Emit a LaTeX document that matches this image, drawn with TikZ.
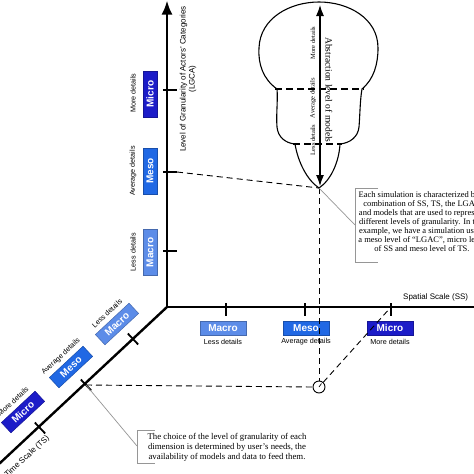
\documentclass[tikz,border=0pt]{standalone}
\usepackage{fontspec}
\setmainfont{Liberation Serif}
\setsansfont{Liberation Sans}
\usetikzlibrary{arrows.meta}
\definecolor{microc}{RGB}{28,28,200}
\definecolor{mesoc}{RGB}{32,104,228}
\definecolor{macroc}{RGB}{92,140,232}
\definecolor{leadc}{RGB}{150,150,150}
\begin{document}
\begin{tikzpicture}[x=1pt,y=-1pt,
  axis/.style={line width=2.4pt},
  tickmark/.style={line width=1.8pt},
  lvbox/.style={draw=#1!75!black, line width=0.5pt, fill=#1, text=white,
    font=\sffamily\bfseries\fontsize{10}{10}\selectfont,
    minimum width=46pt, minimum height=14pt, inner sep=0pt},
  lbl/.style={font=\sffamily\fontsize{7.2}{8}\selectfont, inner sep=0pt},
  axlbl/.style={font=\sffamily\fontsize{8}{9}\selectfont, inner sep=0pt},
  dsh/.style={dash pattern=on 6pt off 4pt, line width=0.9pt},
  leadline/.style={draw=leadc, line width=0.7pt},
  bracket/.style={draw=leadc, line width=0.8pt},
  ctext/.style={font=\fontsize{8.5}{9}\selectfont, align=center, inner sep=0pt},
  small/.style={font=\fontsize{6.5}{7}\selectfont, inner sep=0pt}
]
\useasboundingbox (0,0) rectangle (474,474);
\clip (0,0) rectangle (474,474);
\fill[white] (0,0) rectangle (474,474);

% coordinates
\coordinate (O) at (167,307);
\coordinate (vtop) at (167,0.5);
\coordinate (hend) at (480,307);
\coordinate (dend) at (-8.4,470.9);
\coordinate (vt1) at (167,90);
\coordinate (vt2) at (167,172);
\coordinate (vt3) at (167,251);
\coordinate (vt2r) at (177,172);
\coordinate (ht1) at (226,307);
\coordinate (ht2) at (305,307);
\coordinate (ht3) at (391,307);
\coordinate (dt1) at (133,339);
\coordinate (dt2) at (86,385);
\coordinate (dt3) at (40,428);
\coordinate (btip) at (319,188);
\coordinate (atop) at (320,5);
\coordinate (abot) at (320,186);
\coordinate (c1mid) at (355,225);
\coordinate (c2mid) at (137,446);

% axes
\draw[axis, -{Latex[length=14pt,width=11pt]}] (O) -- (vtop);
\draw[axis] (O) -- (hend);
\draw[axis] (O) -- (dend);

% ticks
\foreach \p in {vt1,vt2,vt3}
  \draw[tickmark] ([xshift=-4pt]\p) -- ([xshift=10pt]\p);
\foreach \p in {ht1,ht2,ht3}
  \draw[tickmark] ([yshift=4pt]\p) -- ([yshift=-9pt]\p);
\foreach \p in {dt1,dt2,dt3}
  \draw[tickmark] ([shift={(-5.2,-5.5)}]\p) -- ([shift={(5.2,5.5)}]\p);

% vertical axis boxes
\node[lvbox=microc, rotate=90] (vmicro) at (150,94) {Micro};
\node[lvbox=mesoc, rotate=90] (vmeso) at (150,171) {Meso};
\node[lvbox=macroc, rotate=90] (vmacro) at (150,252.5) {Macro};
\node[lbl, rotate=90] (vmicrol) at (133,93) {More details};
\node[lbl, rotate=90] (vmesol) at (133,171) {Average details};
\node[lbl, rotate=90] (vmacrol) at (133,252) {Less details};
\node[axlbl, rotate=90, align=center] (vaxl) at (188,79) {Level of Granularity of Actors' Categories\\(LGCA)};

% horizontal axis boxes
\node[lvbox=macroc] (hmacro) at (223,328.5) {Macro};
\node[lvbox=mesoc] (hmeso) at (306,328) {Meso};
\node[lvbox=microc] (hmicro) at (390,328) {Micro};
\node[lbl] (hmacrol) at (223,342) {Less details};
\node[lbl] (hmesol) at (306,342) {Average details};
\node[lbl] (hmicrol) at (390,342) {More details};
\node[axlbl, anchor=west] (haxl) at (403,297) {Spatial Scale (SS)};

% diagonal axis boxes
\node[lvbox=macroc, rotate=43] (dmacro) at (117,324) {Macro};
\node[lvbox=mesoc, rotate=43] (dmeso) at (71,367) {Meso};
\node[lvbox=microc, rotate=43] (dmicro) at (23,412) {Micro};
\node[lbl, rotate=43] (dmacrol) at (107,313.5) {Less details};
\node[lbl, rotate=43] (dmesol) at (61,356.5) {Average details};
\node[lbl, rotate=43] (dmicrol) at (13,401.5) {More details};
\node[axlbl, rotate=43] (daxl) at (27.2,456.7) {Time Scale (TS)};

% balloon
\coordinate (nl1) at (277,89);
\coordinate (nr1) at (362,89);
\coordinate (nl2) at (295,144);
\coordinate (nr2) at (340,144);
\draw[line width=1.1pt]
  (nl1) .. controls (263,79) and (258,64) .. (259,48)
        .. controls (260,18) and (290,2) .. (319,2)
        .. controls (348,2) and (378,18) .. (378,48)
        .. controls (378,64) and (374,79) .. (nr1)
        .. controls (360,100) and (360,115) .. (359,127)
        .. controls (358,137) and (350,143) .. (nr2)
        .. controls (339,162) and (331,180) .. (btip)
        .. controls (307,180) and (298,162) .. (nl2)
        .. controls (285,143) and (278,137) .. (277,127)
        .. controls (276,115) and (278,100) .. (nl1);
\draw[line width=1.1pt, dash pattern=on 7pt off 4pt] ([xshift=-2pt]nl1) -- ([xshift=2pt]nr1);
\draw[line width=1.1pt, dash pattern=on 7pt off 4pt] ([xshift=-2pt]nl2) -- ([xshift=2pt]nr2);
\draw[line width=1.2pt, {Latex[length=11pt,width=8pt]}-{Latex[length=11pt,width=8pt]}] (atop) -- (abot);
\node[font=\fontsize{9.5}{10}\selectfont, rotate=-90, inner sep=0pt] (absl) at (329,90) {Abstraction level of models};
\node[small, rotate=90] (bmore) at (313,43) {More details};
\node[small, rotate=90] (bavg) at (313,98) {Average details};
\node[small, rotate=90] (bless) at (313,140) {Less details};

% dashed projection lines
\node[circle, draw, line width=0.9pt, minimum size=12pt, inner sep=0pt] (ring) at (319,387) {};
\draw[dsh] (vt2r) -- (btip);
\draw[dsh] (btip) -- (ring.north);
\draw[dsh] (dt2) -- (ring.west);
\draw[dsh] (ring) -- (ht3);
\draw[line width=0.7pt] (ring.center) -- ++(2.5,-3.5);

% callouts
\draw[leadline] (btip) -- (c1mid);
\draw[bracket] (378,188) -| (355,262) -- (378,262);
\node[ctext] (c1text) at (422,222) {Each simulation is characterized by a\\combination of SS, TS, the LGAC\\and models that are used to represent\\different levels of granularity. In this\\example, we have a simulation using\\a meso level of ``LGAC'', micro level\\of SS and meso level of TS.};

\draw[leadline] (dt2) -- (c2mid);
\draw[bracket] (155,430) -| (137,463) -- (155,463);
\node[ctext, font=\fontsize{8.8}{10}\selectfont] (c2text) at (227,447) {The choice of the level of granularity of each\\dimension is determined by user's needs, the\\availability of models and data to feed them.};
\end{tikzpicture}
\end{document}
